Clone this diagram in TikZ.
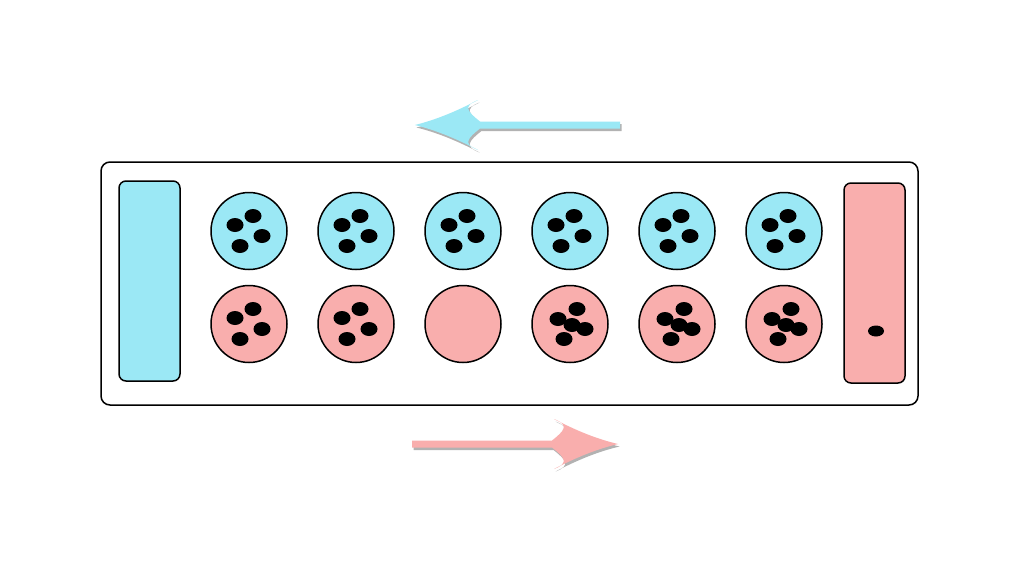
\documentclass[tikz,border=0pt]{standalone}
\usetikzlibrary{shadows,shapes.geometric}
\begin{document}
\begin{tikzpicture}[x=1pt,y=-1pt,
  board/.style={draw=black,line width=1.5pt,fill=white,rounded corners=9pt},
  store/.style={draw=black,line width=1.5pt,rounded corners=7pt},
  pit/.style={draw=black,line width=1.5pt,ellipse,minimum width=76pt,minimum height=77pt,inner sep=0pt},
  stone/.style={fill=black},
  arr/.style={draw=none}]
\definecolor{cb}{HTML}{9BE8F5}
\definecolor{cp}{HTML}{F9AEAD}
\useasboundingbox (0,0) rectangle (1024,568);
\fill[white] (0,0) rectangle (1024,568);
\node[board,minimum width=817pt,minimum height=243pt,inner sep=0pt] (B) at (509.5,283.5) {};
\node[store,fill=cb,minimum width=61pt,minimum height=200pt,inner sep=0pt] (S1) at (149.5,281) {};
\node[store,fill=cp,minimum width=61pt,minimum height=200pt,inner sep=0pt] (S2) at (874.5,283) {};
\fill[stone] (876,331) ellipse (8pt and 5.5pt);
\foreach \i/\x in {1/249,2/356,3/463,4/570,5/677,6/784}{
  \node[pit,fill=cb] (T\i) at (\x,231) {};
  \node[pit,fill=cp] (P\i) at (\x,324) {};
  \foreach \dx/\dy in {4/-15,-14/-6,13/5,-9/15}
    \fill[stone] (\x+\dx,231+\dy) ellipse (8.5pt and 7pt);
}
\foreach \x in {249,356}
  \foreach \dx/\dy in {4/-15,-14/-6,13/5,-9/15}
    \fill[stone] (\x+\dx,324+\dy) ellipse (8.5pt and 7pt);
\foreach \x in {570,677,784}
  \foreach \dx/\dy in {7/-15,-12/-5,2/1,15/5,-6/15}
    \fill[stone] (\x+\dx,324+\dy) ellipse (8.5pt and 7pt);
% arrows (shadow then fill)
\def\blue{(620,121.5) -- (480,121.5) .. controls (468,112) and (462,106) .. (478,100)
  .. controls (455,112) and (435,120) .. (415,125) .. controls (435,130) and (455,138) .. (478,150)
  .. controls (462,144) and (468,138) .. (480,128.5) -- (620,128.5) -- cycle}
\def\pink{(412,440.5) -- (552,440.5) .. controls (564,431) and (570,425) .. (554,419)
  .. controls (577,431) and (597,439) .. (618,444) .. controls (597,449) and (577,457) .. (554,469)
  .. controls (570,463) and (564,457) .. (552,447.5) -- (412,447.5) -- cycle}
\path[arr,fill=black,opacity=0.3,shift={(1.5,2.5)}] \blue;
\path[arr,fill=cb] \blue;
\path[arr,fill=black,opacity=0.3,shift={(1.5,2.5)}] \pink;
\path[arr,fill=cp] \pink;
\end{tikzpicture}
\end{document}
